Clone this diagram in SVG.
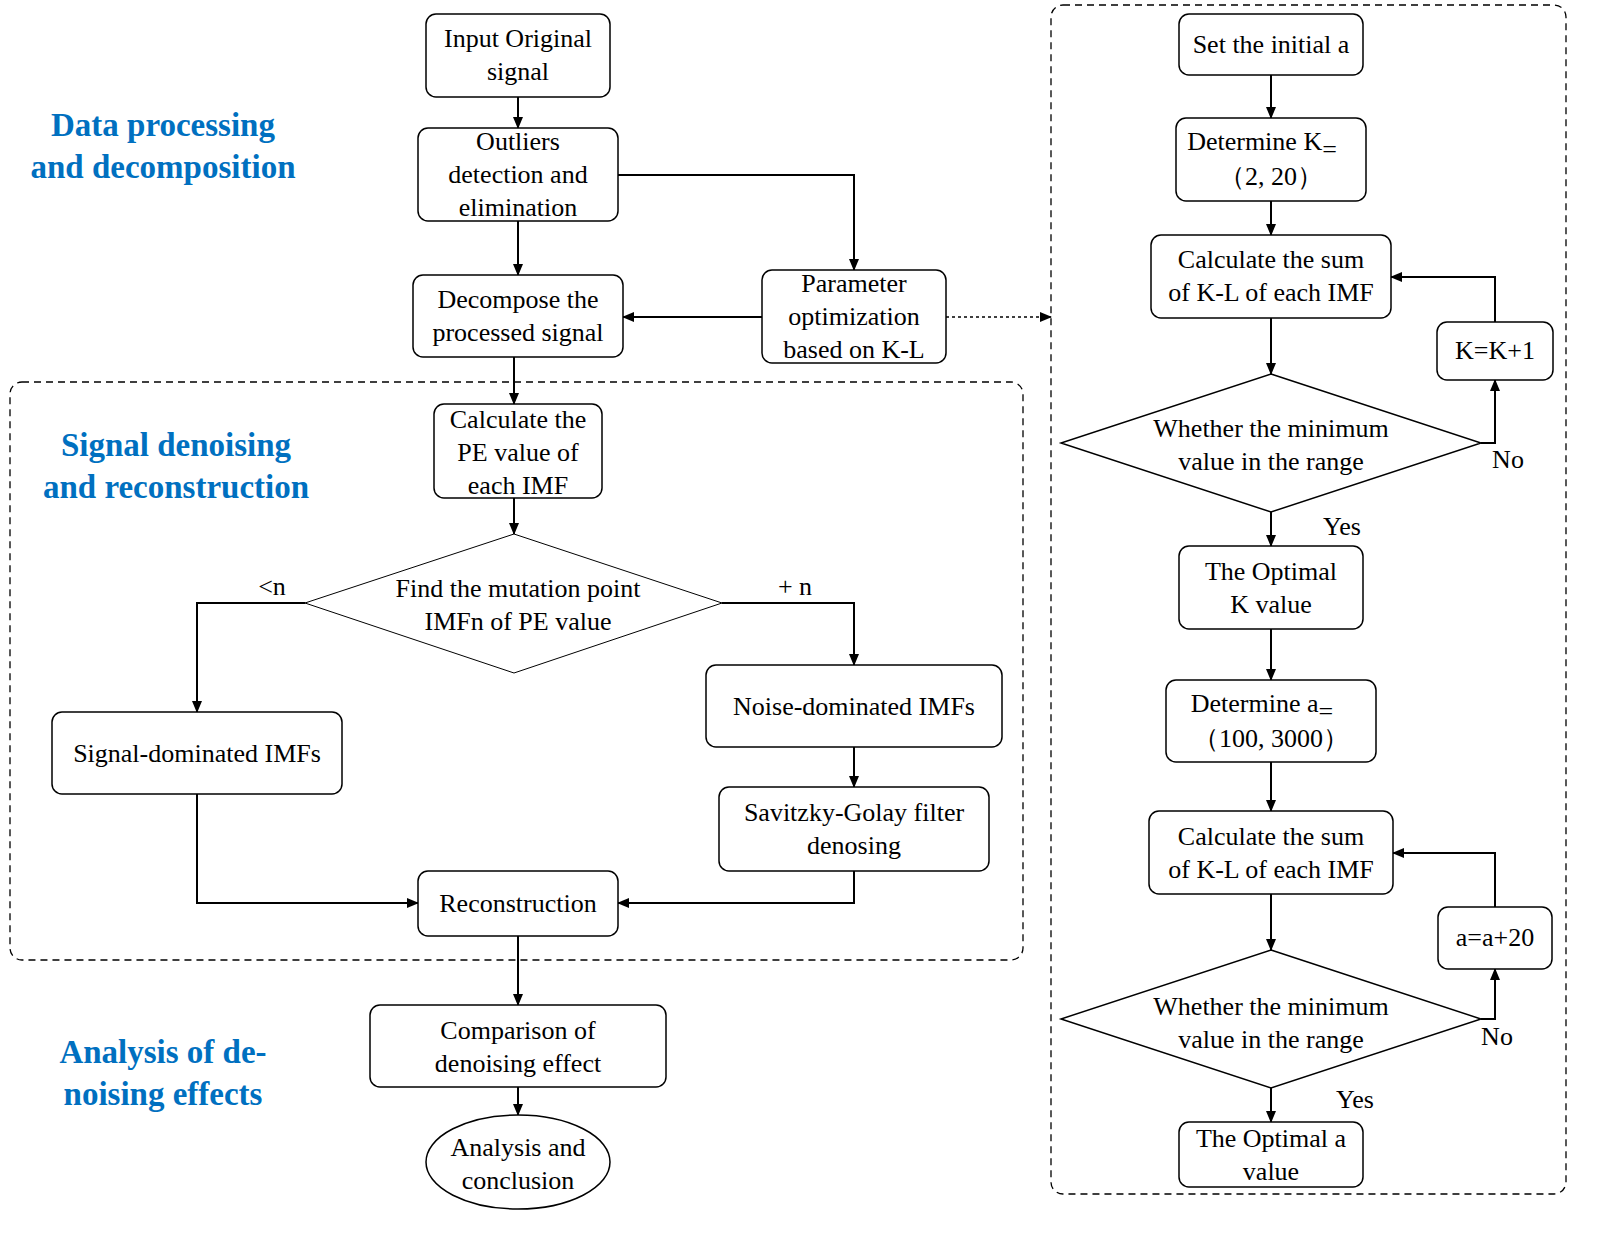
<svg xmlns="http://www.w3.org/2000/svg" width="1600" height="1237" viewBox="0 0 1600 1237">
<defs><marker id="a" markerWidth="12" markerHeight="10" refX="11" refY="5" orient="auto" markerUnits="userSpaceOnUse"><path d="M0,0 L12,5 L0,10 z" fill="#000"/></marker></defs>
<style>
.b{fill:#fff;stroke:#000;stroke-width:1.5}
.t{font-family:"Liberation Serif",serif;font-size:26px;text-anchor:middle;fill:#000}
.h{font-family:"Liberation Serif",serif;font-size:33px;font-weight:bold;text-anchor:middle;fill:#0070C0}
.c{fill:none;stroke:#000;stroke-width:2;marker-end:url(#a)}
.d{fill:none;stroke:#000;stroke-width:1.3;stroke-dasharray:7,5}
</style>
<rect width="1600" height="1237" fill="#fff"/>
<rect class="d" x="10" y="382" width="1013" height="578" rx="12"/>
<rect class="d" x="1051" y="5" width="515" height="1189" rx="12"/>
<text class="h" x="163" y="136">Data processing</text><text class="h" x="163" y="178">and decomposition</text>
<text class="h" x="176" y="456">Signal denoising</text><text class="h" x="176" y="498">and reconstruction</text>
<text class="h" x="163" y="1063">Analysis of de-</text><text class="h" x="163" y="1105">noising effects</text>
<g id="connectors">
<path class="c" d="M518,97V128"/><path class="c" d="M518,221V275"/>
<path class="c" d="M618,175H854V270"/><path class="c" d="M762,317H623"/>
<path d="M946,317H1051" fill="none" stroke="#000" stroke-width="1.5" stroke-dasharray="3,3" marker-end="url(#a)"/>
<path class="c" d="M514,357V404"/><path class="c" d="M514,498V534"/>
<path class="c" d="M305,603H197V712"/><path class="c" d="M722,603H854V665"/>
<path class="c" d="M854,747V787"/><path class="c" d="M197,794V903H418"/><path class="c" d="M854,871V903H618"/>
<path class="c" d="M518,936V1005"/><path class="c" d="M518,1087V1115"/>
<path class="c" d="M1271,75V118"/><path class="c" d="M1271,201V235"/><path class="c" d="M1271,318V374"/>
<path class="c" d="M1481,443H1495V380"/><path class="c" d="M1495,322V277H1391"/>
<path class="c" d="M1271,512V546"/><path class="c" d="M1271,629V680"/><path class="c" d="M1271,762V811"/><path class="c" d="M1271,894V950"/>
<path class="c" d="M1481,1019H1495V969"/><path class="c" d="M1495,907V853H1393"/><path class="c" d="M1271,1088V1122"/>
<text class="t" x="272" y="595" font-size="24">&lt;n</text><text class="t" x="795" y="595" font-size="24">+ n</text>
<text class="t" x="1508" y="468">No</text><text class="t" x="1342" y="535">Yes</text>
<text class="t" x="1497" y="1045" font-size="22">No</text><text class="t" x="1355" y="1108">Yes</text>
</g>
<g id="n1"><rect class="b" x="426" y="14" width="184" height="83" rx="10"/><text class="t" x="518" y="47">Input Original</text><text class="t" x="518" y="80">signal</text></g>
<g id="n2"><rect class="b" x="418" y="128" width="200" height="93" rx="10"/><text class="t" x="518" y="150">Outliers</text><text class="t" x="518" y="183">detection and</text><text class="t" x="518" y="216">elimination</text></g>
<g id="n3"><rect class="b" x="413" y="275" width="210" height="82" rx="10"/><text class="t" x="518" y="308">Decompose the</text><text class="t" x="518" y="341">processed signal</text></g>
<g id="n4"><rect class="b" x="762" y="270" width="184" height="93" rx="10"/><text class="t" x="854" y="292">Parameter</text><text class="t" x="854" y="325">optimization</text><text class="t" x="854" y="358">based on K-L</text></g>
<g id="n5"><rect class="b" x="434" y="404" width="168" height="94" rx="10"/><text class="t" x="518" y="428">Calculate the</text><text class="t" x="518" y="461">PE value of</text><text class="t" x="518" y="494">each IMF</text></g>
<g id="n6"><polygon points="514,534 722,603 514,673 305,603" fill="#fff" stroke="#000" stroke-width="1"/><text class="t" x="518" y="597">Find the mutation point</text><text class="t" x="518" y="630">IMFn of PE value</text></g>
<g id="n7"><rect class="b" x="52" y="712" width="290" height="82" rx="10"/><text class="t" x="197" y="762">Signal-dominated IMFs</text></g>
<g id="n8"><rect class="b" x="706" y="665" width="296" height="82" rx="10"/><text class="t" x="854" y="715">Noise-dominated IMFs</text></g>
<g id="n9"><rect class="b" x="719" y="787" width="270" height="84" rx="10"/><text class="t" x="854" y="821">Savitzky-Golay filter</text><text class="t" x="854" y="854">denosing</text></g>
<g id="n10"><rect class="b" x="418" y="871" width="200" height="65" rx="10" stroke-width="1"/><text class="t" x="518" y="912">Reconstruction</text></g>
<g id="n11"><rect class="b" x="370" y="1005" width="296" height="82" rx="10" stroke-width="1"/><text class="t" x="518" y="1039">Comparison of</text><text class="t" x="518" y="1072">denoising effect</text></g>
<g id="n12"><ellipse cx="518" cy="1162" rx="92" ry="47" class="b" stroke-width="1"/><text class="t" x="518" y="1156">Analysis and</text><text class="t" x="518" y="1189">conclusion</text></g>
<g id="r1"><rect class="b" x="1179" y="14" width="184" height="61" rx="10"/><text class="t" x="1271" y="53">Set the initial a</text></g>
<g id="r2"><rect class="b" x="1176" y="118" width="190" height="83" rx="10"/><text class="t" x="1262" y="150">Determine K<tspan dy="8">=</tspan></text><text class="t" x="1271" y="185">（2, 20）</text></g>
<g id="r3"><rect class="b" x="1151" y="235" width="240" height="83" rx="10"/><text class="t" x="1271" y="268">Calculate the sum</text><text class="t" x="1271" y="301">of K-L of each IMF</text></g>
<g id="r4"><rect class="b" x="1437" y="322" width="116" height="58" rx="10"/><text class="t" x="1495" y="359">K=K+1</text></g>
<g id="r5"><polygon points="1271,374 1481,443 1271,512 1061,443" fill="#fff" stroke="#000" stroke-width="1.5"/><text class="t" x="1271" y="437">Whether the minimum</text><text class="t" x="1271" y="470">value in the range</text></g>
<g id="r6"><rect class="b" x="1179" y="546" width="184" height="83" rx="10"/><text class="t" x="1271" y="580">The Optimal</text><text class="t" x="1271" y="613">K value</text></g>
<g id="r7"><rect class="b" x="1166" y="680" width="210" height="82" rx="10"/><text class="t" x="1262" y="712">Determine a<tspan dy="8">=</tspan></text><text class="t" x="1271" y="747">（100, 3000）</text></g>
<g id="r8"><rect class="b" x="1149" y="811" width="244" height="83" rx="10"/><text class="t" x="1271" y="845">Calculate the sum</text><text class="t" x="1271" y="878">of K-L of each IMF</text></g>
<g id="r9"><rect class="b" x="1438" y="907" width="114" height="62" rx="10"/><text class="t" x="1495" y="946">a=a+20</text></g>
<g id="r10"><polygon points="1271,950 1481,1019 1271,1088 1061,1019" fill="#fff" stroke="#000" stroke-width="1.5"/><text class="t" x="1271" y="1015">Whether the minimum</text><text class="t" x="1271" y="1048">value in the range</text></g>
<g id="r11"><rect class="b" x="1179" y="1122" width="184" height="65" rx="10"/><text class="t" x="1271" y="1147">The Optimal a</text><text class="t" x="1271" y="1180">value</text></g>
</svg>
